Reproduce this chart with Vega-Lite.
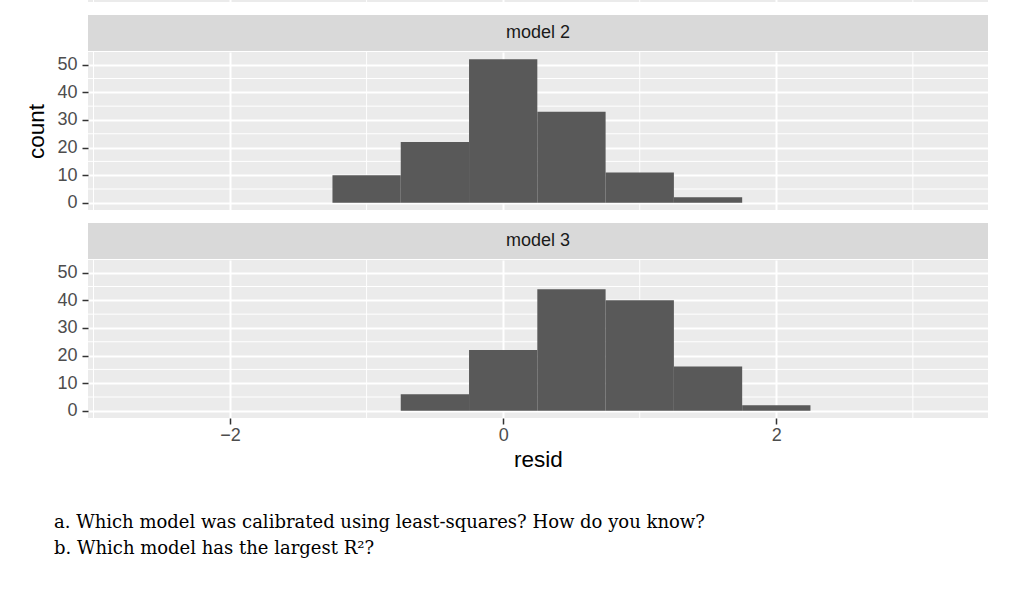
{
  "$schema": "https://vega.github.io/schema/vega-lite/v6.json",
  "padding": {"left": 25, "top": -157, "right": 0, "bottom": 0},
  "background": "white",
  "config": {
    "font": "Liberation Sans",
    "view": {"stroke": null},
    "axis": {
      "labelFont": "Liberation Sans", "labelFontSize": 18, "labelColor": "#4d4d4d",
      "tickColor": "#333333", "tickSize": 6, "tickWidth": 1.5, "domain": false,
      "gridColor": "#ffffff", "gridWidth": 2,
      "titleFont": "Liberation Sans", "titleFontSize": 22.5, "titleFontWeight": "normal", "titleColor": "#000000",
      "labelPadding": 5
    }
  },
  "datasets": {
    "bins": [
      {"model": "model 2", "lo": -1.25, "hi": -0.75, "count": 10},
      {"model": "model 2", "lo": -0.75, "hi": -0.25, "count": 22},
      {"model": "model 2", "lo": -0.25, "hi": 0.25, "count": 52},
      {"model": "model 2", "lo": 0.25, "hi": 0.75, "count": 33},
      {"model": "model 2", "lo": 0.75, "hi": 1.25, "count": 11},
      {"model": "model 2", "lo": 1.25, "hi": 1.75, "count": 2},
      {"model": "model 3", "lo": -0.75, "hi": -0.25, "count": 6},
      {"model": "model 3", "lo": -0.25, "hi": 0.25, "count": 22},
      {"model": "model 3", "lo": 0.25, "hi": 0.75, "count": 44},
      {"model": "model 3", "lo": 0.75, "hi": 1.25, "count": 40},
      {"model": "model 3", "lo": 1.25, "hi": 1.75, "count": 16},
      {"model": "model 3", "lo": 1.75, "hi": 2.25, "count": 2}
    ],
    "xminor": [{"v": -3}, {"v": -1}, {"v": 1}, {"v": 3}],
    "yminor": [{"v": 5}, {"v": 15}, {"v": 25}, {"v": 35}, {"v": 45}],
    "strips": [{"model": "model 2"}, {"model": "model 3"}]
  },
  "title": {
    "text": ["a. Which model was calibrated using least-squares? How do you know?", "b. Which model has the largest R²?"],
    "orient": "bottom", "anchor": "start", "font": "DejaVu Serif", "fontSize": 18,
    "fontWeight": "normal", "color": "#000000", "lineHeight": 26, "offset": 43, "dx": 28
  },
  "spacing": 11,
  "vconcat": [
    {
      "width": 900, "height": 158,
      "view": {"fill": "#ebebeb", "stroke": null},
      "layer": [
        {
          "data": {"name": "yminor"},
          "mark": {"type": "rule", "color": "#ffffff", "strokeWidth": 1},
          "encoding": {"y": {"field": "v", "type": "quantitative", "scale": {"domain": [-2.6, 54.6], "nice": false, "zero": false}, "axis": {"values": [0, 10, 20, 30, 40, 50], "title": null, "grid": true}}}
        },
        {
          "data": {"name": "xminor"},
          "mark": {"type": "rule", "color": "#ffffff", "strokeWidth": 1},
          "encoding": {"x": {"field": "v", "type": "quantitative", "scale": {"domain": [-3.04, 3.55], "nice": false, "zero": false}, "axis": {"values": [-2, 0, 2], "labels": false, "ticks": false, "title": null, "grid": true}}}
        }
      ]
    },
    {
      "spacing": 0,
      "vconcat": [
        {
          "width": 900, "height": 36,
          "view": {"fill": "#d9d9d9", "stroke": null},
          "data": {"name": "strips"},
          "transform": [{"filter": "datum.model === 'model 2'"}],
          "mark": {"type": "text", "fontSize": 18, "color": "#1a1a1a", "font": "Liberation Sans"},
          "encoding": {"text": {"field": "model", "type": "nominal"}}
        },
        {
          "width": 900, "height": 158,
          "view": {"fill": "#ebebeb", "stroke": null},
          "layer": [
            {
              "data": {"name": "yminor"},
              "mark": {"type": "rule", "color": "#ffffff", "strokeWidth": 1},
              "encoding": {"y": {"field": "v", "type": "quantitative", "scale": {"domain": [-2.6, 54.6], "nice": false, "zero": false}, "axis": {"values": [0, 10, 20, 30, 40, 50], "title": "count", "grid": true, "titlePadding": 8}}}
            },
            {
              "data": {"name": "xminor"},
              "mark": {"type": "rule", "color": "#ffffff", "strokeWidth": 1},
              "encoding": {"x": {"field": "v", "type": "quantitative", "scale": {"domain": [-3.04, 3.55], "nice": false, "zero": false}, "axis": {"values": [-2, 0, 2], "labels": false, "ticks": false, "title": null, "grid": true}}}
            },
            {
              "data": {"name": "bins"},
              "transform": [{"filter": "datum.model === 'model 2'"}],
              "mark": {"type": "rect", "color": "#595959"},
              "encoding": {
                "x": {"field": "lo", "type": "quantitative", "axis": {"values": [-2, 0, 2], "labels": false, "ticks": false, "title": null, "grid": true}},
                "x2": {"field": "hi"},
                "y": {"field": "count", "type": "quantitative", "axis": {"values": [0, 10, 20, 30, 40, 50], "title": "count", "grid": true, "titlePadding": 8}},
                "y2": {"datum": 0}
              }
            }
          ]
        }
      ]
    },
    {
      "spacing": 0,
      "vconcat": [
        {
          "width": 900, "height": 36,
          "view": {"fill": "#d9d9d9", "stroke": null},
          "data": {"name": "strips"},
          "transform": [{"filter": "datum.model === 'model 3'"}],
          "mark": {"type": "text", "fontSize": 18, "color": "#1a1a1a", "font": "Liberation Sans"},
          "encoding": {"text": {"field": "model", "type": "nominal"}}
        },
        {
          "width": 900, "height": 158,
          "view": {"fill": "#ebebeb", "stroke": null},
          "layer": [
            {
              "data": {"name": "yminor"},
              "mark": {"type": "rule", "color": "#ffffff", "strokeWidth": 1},
              "encoding": {"y": {"field": "v", "type": "quantitative", "scale": {"domain": [-2.6, 54.6], "nice": false, "zero": false}, "axis": {"values": [0, 10, 20, 30, 40, 50], "title": null, "grid": true}}}
            },
            {
              "data": {"name": "xminor"},
              "mark": {"type": "rule", "color": "#ffffff", "strokeWidth": 1},
              "encoding": {"x": {"field": "v", "type": "quantitative", "scale": {"domain": [-3.04, 3.55], "nice": false, "zero": false}, "axis": {"values": [-2, 0, 2], "title": "resid", "grid": true, "labelPadding": 2, "titlePadding": 4}}}
            },
            {
              "data": {"name": "bins"},
              "transform": [{"filter": "datum.model === 'model 3'"}],
              "mark": {"type": "rect", "color": "#595959"},
              "encoding": {
                "x": {"field": "lo", "type": "quantitative", "axis": {"values": [-2, 0, 2], "title": "resid", "grid": true, "labelPadding": 2, "titlePadding": 4}},
                "x2": {"field": "hi"},
                "y": {"field": "count", "type": "quantitative", "axis": {"values": [0, 10, 20, 30, 40, 50], "title": null, "grid": true}},
                "y2": {"datum": 0}
              }
            }
          ]
        }
      ]
    }
  ]
}
